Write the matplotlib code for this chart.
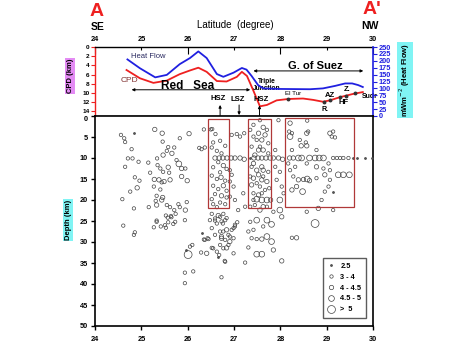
import matplotlib
matplotlib.use('Agg')
import matplotlib.pyplot as plt
from matplotlib.lines import Line2D

plt.rcParams['font.family'] = ['Liberation Sans', 'DejaVu Sans']

# heat flow profile (mW/m2) read along latitude
hf_lat = [24.70, 24.97, 25.30, 25.55, 25.83, 26.05, 26.23, 26.41, 26.63, 26.77, 26.99,
          27.17, 27.27, 27.38, 27.52, 27.63, 27.99, 28.64, 28.92, 29.18, 29.40, 29.55, 29.68, 29.78]
hf_val = [205, 173, 140, 149, 188, 210, 234, 210, 152, 142, 157,
          174, 168, 145, 112, 100, 98, 97, 100, 109, 118, 118, 112, 105]

# curie point depth (km)
cpd_lat = [24.68, 24.97, 25.26, 25.55, 25.83, 26.05, 26.23, 26.41, 26.63, 26.84, 27.06,
           27.17, 27.28, 27.41, 27.56, 27.71, 27.92, 28.17, 28.49, 28.71, 28.92, 29.07, 29.29, 29.57, 29.78]
cpd_val = [5.0, 6.8, 7.8, 7.3, 5.9, 5.1, 4.5, 5.4, 7.4, 7.5, 6.5,
           5.4, 6.3, 9.3, 12.9, 12.6, 11.6, 11.3, 11.2, 11.5, 11.9, 11.6, 10.9, 10.2, 9.8]

# localities on the CPD curve
site_lat = [28.17, 28.94, 29.07, 29.28, 29.42, 29.62]
site_cpd = [11.3, 11.9, 11.6, 10.9, 10.6, 10.1]

# earthquakes (latitude, depth km) grouped by magnitude class
mag_25 = [(24.84, 4.1), (26.32, 27.9), (26.66, 33.5), (25.96, 31.8), (27.35, 10.0), (29.14, 18.0),
          (29.56, 10.0), (29.65, 10.0), (29.83, 10.0), (29.97, 10.0)]

mag_3_4 = [(24.56, 4.5), (24.63, 5.3), (24.65, 6.2), (25.83, 5.3), (25.46, 6.1), (24.79, 7.9),
           (24.71, 10.1), (24.81, 10.1), (24.94, 10.9), (25.15, 11.1), (25.34, 10.1), (25.58, 7.4),
           (25.71, 7.5), (25.55, 8.3), (25.76, 10.5), (25.95, 12.5), (25.35, 11.7), (25.41, 12.5),
           (25.47, 13.3), (25.60, 13.5), (25.44, 15.8), (24.65, 12.1), (24.86, 14.6), (24.96, 15.4),
           (24.76, 18.0), (25.19, 13.5), (25.27, 16.8), (25.41, 17.5), (25.33, 19.0), (25.31, 20.2),
           (25.16, 21.7), (25.55, 21.2), (25.62, 21.7), (25.71, 22.4), (25.83, 21.7), (25.98, 20.5),
           (24.59, 19.8), (24.84, 22.0), (25.33, 24.9), (25.53, 23.7), (25.65, 24.1), (25.74, 23.3),
           (25.58, 25.3), (25.42, 26.3), (25.53, 26.6), (25.69, 25.7), (25.94, 24.8), (25.80, 21.0),
           (24.61, 26.1), (24.84, 28.3), (24.86, 27.7), (25.27, 26.5), (25.33, 25.2), (25.51, 26.0),
           (25.73, 25.2), (26.05, 31.1), (26.10, 30.7), (25.94, 37.3), (26.12, 37.0), (25.94, 39.8),
           (26.29, 32.5), (26.35, 29.4), (26.43, 29.1), (26.52, 31.4), (26.63, 32.3), (26.68, 33.1),
           (26.80, 34.5), (26.73, 38.4), (26.59, 28.3), (26.70, 27.5), (26.99, 29.1), (26.99, 32.7),
           (26.88, 28.3), (27.02, 26.3), (27.07, 25.3), (25.57, 24.2), (25.64, 23.8),
           (26.53, 3.1), (26.60, 4.3), (26.55, 6.3), (26.70, 5.9), (26.81, 7.1), (26.52, 7.5),
           (26.63, 8.3), (26.73, 8.9), (26.66, 11.0), (26.55, 12.2), (26.84, 12.6), (26.70, 13.4),
           (26.52, 14.2), (26.63, 15.0), (26.81, 15.4), (26.55, 16.6), (26.66, 17.4), (26.84, 17.8),
           (26.59, 18.6), (26.84, 19.4), (26.52, 19.8), (26.70, 20.6), (26.81, 21.0), (26.55, 21.0),
           (26.63, 21.7), (26.30, 7.9), (26.37, 7.5), (26.35, 3.2), (26.50, 3.2), (26.25, 7.6),
           (26.48, 24.8), (26.59, 24.4), (26.70, 24.0), (26.81, 24.8), (26.76, 25.6), (26.63, 25.6),
           (26.52, 26.7), (26.77, 27.5), (26.81, 29.5), (26.91, 28.7), (26.88, 30.7), (26.70, 30.7),
           (26.55, 31.5), (26.37, 29.5), (26.45, 29.3), (26.99, 26.7), (26.81, 34.7), (26.77, 31.5),
           (26.52, 23.3), (26.77, 23.3), (26.84, 24.3), (26.59, 24.9), (26.73, 25.1),
           (26.95, 4.5), (27.06, 4.3), (27.22, 4.1), (27.13, 4.9), (26.91, 12.9), (26.95, 14.0),
           (26.91, 15.6), (26.99, 16.8), (26.91, 19.2), (27.02, 20.0), (27.20, 18.4), (27.24, 21.6),
           (27.09, 22.4),
           (27.56, 1.0), (27.42, 2.1), (27.42, 4.9), (27.74, 6.5), (27.38, 7.3), (27.56, 16.8),
           (27.67, 17.6), (27.42, 18.4), (27.42, 20.0), (27.45, 21.2), (27.71, 21.6), (27.35, 21.6),
           (27.49, 5.7), (27.71, 3.3), (27.35, 3.3), (27.56, 7.3), (27.74, 8.9), (27.38, 12.1),
           (27.74, 13.3), (27.49, 16.0), (27.63, 14.4), (27.35, 14.4), (27.76, 17.2), (27.60, 18.4),
           (27.63, 26.3), (27.42, 27.1), (27.31, 27.5), (27.38, 29.1), (27.49, 29.3), (28.25, 29.0),
           (27.31, 31.3), (27.24, 34.9), (27.02, 25.9), (26.95, 27.1), (27.35, 25.2), (27.85, 22.8),
           (27.96, 1.0), (27.89, 8.1), (27.89, 12.1), (27.99, 13.3), (27.92, 15.2), (28.03, 16.8),
           (28.07, 18.4),
           (28.58, 1.1), (28.19, 3.7), (28.25, 4.1), (28.60, 3.7), (29.14, 3.7), (29.11, 4.9),
           (29.18, 5.1), (28.42, 5.7), (28.55, 6.3), (28.25, 8.1), (28.78, 8.1), (29.14, 10.0),
           (29.22, 10.0), (29.29, 10.0), (29.36, 10.0), (29.47, 10.0), (28.17, 11.3), (28.32, 12.1),
           (28.57, 11.3), (28.21, 12.9), (28.93, 12.5), (29.04, 11.3), (29.07, 12.9), (28.28, 14.4),
           (28.78, 14.8), (29.07, 15.2), (29.04, 16.8), (28.96, 18.0), (28.89, 20.0), (29.14, 22.4),
           (28.57, 22.8)]

mag_4_45 = [(25.29, 3.2), (25.45, 4.1), (26.03, 4.2), (25.47, 9.3), (25.66, 8.9), (25.87, 12.5),
            (25.58, 12.2), (25.28, 15.1), (25.38, 15.2), (25.49, 15.6), (25.62, 15.2), (25.87, 14.4),
            (25.99, 15.4), (24.91, 17.1), (25.46, 19.4), (25.44, 20.0), (25.33, 21.2), (25.95, 22.4),
            (26.41, 32.7), (26.73, 29.1), (26.91, 29.9), (26.84, 31.4),
            (26.59, 10.0), (26.68, 10.0), (26.76, 10.0), (26.85, 10.0), (26.94, 10.0), (26.77, 11.8),
            (26.72, 14.6), (26.77, 16.6), (26.73, 19.0), (26.66, 23.7), (26.84, 27.1), (26.73, 28.7),
            (27.02, 10.0), (27.13, 10.0), (27.22, 10.3),
            (27.63, 2.7), (27.53, 4.1), (27.67, 4.5), (27.60, 5.7), (27.53, 8.1), (27.63, 8.1),
            (27.45, 9.3), (27.43, 10.0), (27.52, 10.0), (27.60, 10.0), (27.69, 10.0), (27.78, 10.0),
            (27.42, 11.3), (27.60, 12.1), (27.49, 12.9), (27.63, 12.9), (27.53, 14.0), (27.42, 14.8),
            (27.60, 15.2), (27.71, 15.6), (27.38, 16.4), (27.53, 18.8), (27.79, 20.0), (27.63, 21.6),
            (27.56, 22.4), (27.60, 29.3), (27.85, 31.9), (28.03, 34.5), (28.35, 29.0), (28.03, 24.0),
            (27.85, 10.0), (27.96, 10.0), (28.05, 10.3),
            (28.21, 1.7), (28.57, 4.1), (29.07, 4.1), (28.45, 7.1), (28.57, 7.1), (28.20, 10.0),
            (28.28, 10.0), (28.78, 12.1), (28.39, 15.2), (28.50, 15.1), (28.63, 15.4), (28.35, 16.8),
            (28.25, 17.6), (28.96, 14.0), (28.82, 22.0)]

mag_45_5 = [(25.81, 11.4), (28.21, 4.9), (28.39, 10.0), (28.46, 10.0), (28.63, 10.0), (28.75, 10.0),
            (28.84, 10.0), (28.93, 10.0), (28.58, 15.0), (28.48, 18.0), (29.25, 14.0), (29.36, 14.0),
            (29.49, 14.0), (27.49, 19.8), (27.60, 20.0), (27.71, 20.0), (27.49, 24.8), (27.71, 24.8),
            (27.81, 25.8), (27.71, 28.7), (27.81, 29.9), (27.49, 32.9), (27.60, 32.9), (27.99, 20.0),
            (27.99, 22.4)]

mag_gt5 = [(26.01, 33.0), (28.75, 25.6)]

mag_labels = ['2.5', '3 - 4', '4 - 4.5', '4.5 - 5', '>  5']

# seismic zones boxes (lat0, lat1, depth0, depth1)
boxes = [(26.445, 26.90, 0.7, 22.0), (27.31, 27.80, 0.7, 22.0), (28.11, 29.60, 0.5, 21.7)]

W, H = 474, 349
fig = plt.figure(figsize=(W / 100, H / 100), dpi=100)


def fx(px):
    return px / W


def fy(py):
    return 1 - py / H


ax_top = fig.add_axes([fx(95), fy(116), fx(373) - fx(95), fy(47) - fy(116)])
ax_hf = ax_top.twinx()
ax_bot = fig.add_axes([fx(95), fy(326), fx(373) - fx(95), fy(116) - fy(326)])

red = '#ee2020'
blue = '#2020e0'
tick_font = dict(fontsize=5.3, fontweight='bold')
small_font = dict(fontsize=4.6, fontweight='bold')

# ---- top panel
ax_top.plot(cpd_lat, cpd_val, color=red, lw=1.3, zorder=3)
ax_top.plot(site_lat, site_cpd, 'o', color='#333333', ms=1.8, zorder=4)
ax_hf.plot(hf_lat, hf_val, color=blue, lw=1.3)

ax_top.set_xlim(24, 30)
ax_top.set_ylim(15, 0)
ax_top.set_yticks(range(0, 15, 2))
ax_top.set_yticklabels([str(v) for v in range(0, 15, 2)], **small_font)
ax_top.xaxis.tick_top()
ax_top.set_xticks([24, 26, 28, 30])
ax_top.set_xticks([25, 27, 29], minor=True)
ax_top.set_xticklabels(['24', '26', '28', '30'], **tick_font)
ax_top.set_xticklabels(['25', '27', '29'], minor=True, **tick_font)
ax_top.tick_params(axis='x', which='major', direction='in', length=5, width=0.8, pad=3)
ax_top.tick_params(axis='x', which='minor', direction='in', length=2.5, width=0.8, pad=3)
ax_top.tick_params(axis='y', colors=red, labelcolor='black', length=3, width=0.8, pad=1)
ax_top.spines['left'].set_color(red)
ax_top.spines['right'].set_visible(False)
for s in ax_top.spines.values():
    s.set_linewidth(1.0)

ax_hf.set_ylim(0, 250)
ax_hf.set_yticks(range(0, 251, 25))
ax_hf.set_yticklabels([str(v) for v in range(0, 251, 25)], color=blue, **tick_font)
ax_hf.tick_params(axis='y', colors=blue, length=3, width=0.8, pad=1)
ax_hf.spines['right'].set_color(blue)
ax_hf.spines['right'].set_linewidth(1.2)
for side in ['left', 'top', 'bottom']:
    ax_hf.spines[side].set_visible(False)

# annotations top panel
ax_top.text(24.77, 2.0, 'Heat Flow', fontsize=5.5, color='#2a2a60', va='center')
ax_top.text(24.55, 7.2, 'CPD', fontsize=6, color='#803030', va='center')
ax_top.text(25.99, 8.4, 'Red   Sea', fontsize=8.5, fontweight='bold', ha='center', va='center')
ax_top.annotate('', xy=(24.79, 9.3), xytext=(27.35, 9.3),
                arrowprops=dict(arrowstyle='<|-|>', lw=0.7, color='black',
                                mutation_scale=4, shrinkA=0, shrinkB=0))
ax_top.text(28.75, 4.2, 'G. of Suez', fontsize=8, fontweight='bold', ha='center', va='center')
ax_top.annotate('', xy=(27.42, 5.2), xytext=(29.79, 5.2),
                arrowprops=dict(arrowstyle='<|-|>', lw=0.7, color='black',
                                mutation_scale=4, shrinkA=0, shrinkB=0))
ax_top.text(27.51, 7.4, 'Triple', fontsize=4.8, fontweight='bold', va='center')
ax_top.text(27.40, 9.1, 'Junction', fontsize=4.8, fontweight='bold', va='center')

ax_top.text(26.65, 11.3, 'HSZ', fontsize=5.5, fontweight='bold', ha='center', va='center')
ax_top.annotate('', xy=(26.70, 12.6), xytext=(26.70, 15.0),
                arrowprops=dict(arrowstyle='-|>', lw=0.7, color='black', mutation_scale=4,
                                shrinkA=0, shrinkB=0))
ax_top.text(27.09, 11.4, 'LSZ', fontsize=5.5, fontweight='bold', ha='center', va='center')
ax_top.annotate('', xy=(27.11, 14.8), xytext=(27.11, 12.6),
                arrowprops=dict(arrowstyle='-|>', lw=0.7, color='black', mutation_scale=4,
                                shrinkA=0, shrinkB=0))
ax_top.text(27.58, 11.4, 'HSZ', fontsize=5.5, fontweight='bold', ha='center', va='center')
ax_top.annotate('', xy=(27.55, 12.7), xytext=(27.55, 15.0),
                arrowprops=dict(arrowstyle='-|>', lw=0.7, color='black', mutation_scale=4,
                                shrinkA=0, shrinkB=0))

ax_top.text(28.10, 10.1, 'El Tur', fontsize=4.5, va='center')
ax_top.text(29.07, 10.5, 'AZ', fontsize=5.5, fontweight='bold', ha='center', va='center')
ax_top.text(29.45, 9.2, 'Z.', fontsize=5.5, fontweight='bold', ha='center', va='center')
ax_top.text(29.36, 12.0, 'HF', fontsize=5.5, fontweight='bold', ha='center', va='center')
ax_top.text(28.96, 13.6, 'R.', fontsize=5, fontweight='bold', ha='center', va='center')
ax_top.text(29.94, 10.8, 'Sudr', fontsize=5, fontweight='bold', ha='center', va='center')

# ---- bottom panel
styles = [(mag_25, 2.0, '#555555'), (mag_3_4, 6, 'none'), (mag_4_45, 10, 'none'),
          (mag_45_5, 17, 'none'), (mag_gt5, 32, 'none')]
handles = []
for pts, size, fc in styles:
    lat = [p[0] for p in pts]
    dep = [p[1] for p in pts]
    ax_bot.scatter(lat, dep, s=size, facecolors=fc, edgecolors='#444444', linewidths=0.5, zorder=3)
    handles.append(Line2D([], [], ls='none', marker='o', markersize=size ** 0.5,
                          markerfacecolor=fc, markeredgecolor='#444444', markeredgewidth=0.5))

for la0, la1, d0, d1 in boxes:
    ax_bot.add_patch(plt.Rectangle((la0, d0), la1 - la0, d1 - d0, fill=False,
                                   edgecolor='#b03838', lw=0.9, zorder=4))

ax_bot.set_xlim(24, 30)
ax_bot.set_ylim(50, 0)
ax_bot.set_yticks(range(0, 51, 5))
ax_bot.set_yticklabels([str(v) for v in range(0, 51, 5)], **tick_font)
ax_bot.get_yticklabels()[0].set_va('top')
ax_bot.set_xticks(range(24, 31))
ax_bot.set_xticklabels([str(v) for v in range(24, 31)], **tick_font)
ax_bot.tick_params(length=3, width=1.0, pad=2)
ax_bot.tick_params(axis='x', pad=4)
for s in ax_bot.spines.values():
    s.set_linewidth(1.2)

leg = ax_bot.legend(handles, mag_labels, loc='upper left', bbox_to_anchor=(0.819, 0.322),
                    fontsize=5.3, frameon=True, fancybox=False, edgecolor='#333333',
                    labelspacing=0.5, handletextpad=0.8, borderpad=0.6, handlelength=1.0,
                    borderaxespad=0)
leg.get_frame().set_linewidth(1.0)
for t in leg.get_texts():
    t.set_fontweight('bold')

# ---- figure labels
fig.text(fx(97), fy(11), 'A', color=red, fontsize=14, fontweight='bold', ha='center', va='center')
fig.text(fx(372), fy(10), "A'", color=red, fontsize=14, fontweight='bold', ha='center', va='center')
fig.text(fx(98), fy(27), 'SE', fontsize=7.5, fontweight='bold', ha='center', va='center')
fig.text(fx(370), fy(26), 'NW', fontsize=7.5, fontweight='bold', ha='center', va='center')
fig.text(fx(235), fy(25), 'Latitude  (degree)', fontsize=7, ha='center', va='center')
fig.text(fx(70), fy(76), 'CPD (km)', rotation=90, fontsize=5.5, fontweight='bold',
         ha='center', va='center', bbox=dict(facecolor='#e48cf4', edgecolor='none', pad=0.8))
fig.text(fx(68), fy(220), 'Depth (km)', rotation=90, fontsize=5.5, fontweight='bold',
         ha='center', va='center', bbox=dict(facecolor='#80f4f4', edgecolor='none', pad=0.8))
fig.text(fx(405), fy(80), 'mWm$^{-2}$ (Heat Flow)', rotation=90, fontsize=5.5, fontweight='bold',
         ha='center', va='center', bbox=dict(facecolor='#80f4f4', edgecolor='none', pad=0.8))

fig.savefig('out.png', dpi=100)
